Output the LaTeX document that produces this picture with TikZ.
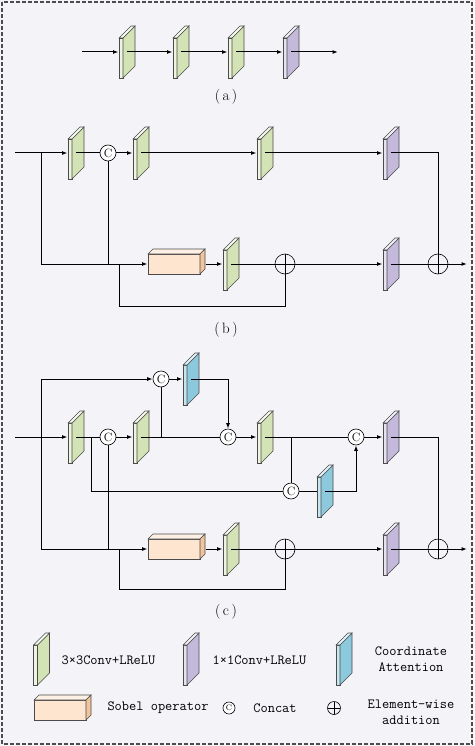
\documentclass[tikz,border=0pt]{standalone}
\usepackage{fontspec}
\usetikzlibrary{arrows.meta,positioning}

\definecolor{bgcol}{HTML}{F4F3F8}
\definecolor{edge}{HTML}{4A4A4A}
\definecolor{grnF}{HTML}{EEF4E0}
\definecolor{grnS}{HTML}{D3E3B5}
\definecolor{prpF}{HTML}{E6E2F0}
\definecolor{prpS}{HTML}{C4B9DA}
\definecolor{cyaF}{HTML}{C6E6F0}
\definecolor{cyaS}{HTML}{8DC9DD}
\definecolor{sobF}{HTML}{FDE5D0}
\definecolor{sobS}{HTML}{F2C49C}
\definecolor{sobT}{HTML}{FEF0E4}

\newcommand\legfont{\fontsize{14}{16}\ttfamily}
\newcommand\caplabel{\fontsize{15}{17}\selectfont}

\begin{document}
\begin{tikzpicture}[
  x=1pt, y=-1pt,
  >={Latex[length=5.5pt,width=4pt]},
  line width=1pt,
  slab/.style 2 args={minimum width=17pt, minimum height=53pt, inner sep=0pt, outer sep=0pt,
    path picture={
      \begin{scope}[shift={(path picture bounding box.center)}, draw=edge, line width=0.6pt]
        \filldraw[fill=#1] (-8pt,-26pt) rectangle (-4pt,14pt);
        \filldraw[fill=#2] (-4pt,-26pt) -- (-4pt,14pt) -- (8pt,26pt) -- (8pt,-14pt) -- cycle;
        \filldraw[fill=#1!50!white] (-8pt,14pt) -- (-4pt,14pt) -- (8pt,26pt) -- (4pt,26pt) -- cycle;
      \end{scope}}},
  conv/.style={slab={grnF}{grnS}},
  pconv/.style={slab={prpF}{prpS}},
  catt/.style={slab={cyaF}{cyaS}},
  sobel/.style={minimum width=58pt, minimum height=31pt, inner sep=0pt, outer sep=0pt,
    path picture={
      \begin{scope}[shift={(path picture bounding box.center)}, draw=edge, line width=0.6pt]
        \filldraw[fill=sobF] (-28.5pt,-10pt) rectangle (23.5pt,10pt);
        \filldraw[fill=sobT] (-28.5pt,10pt) -- (23.5pt,10pt) -- (28.5pt,15pt) -- (-23.5pt,15pt) -- cycle;
        \filldraw[fill=sobS] (23.5pt,-10pt) -- (23.5pt,10pt) -- (28.5pt,15pt) -- (28.5pt,-5pt) -- cycle;
      \end{scope}}},
  conc/.style={circle, draw, fill=white, minimum size=16pt, inner sep=0pt, line width=0.6pt,
    font=\fontsize{12}{12}\selectfont},
  plus/.style={circle, draw, minimum size=20pt, inner sep=0pt, line width=0.6pt,
    path picture={
      \draw[line width=0.7pt] (path picture bounding box.north) -- (path picture bounding box.south);
      \draw[line width=0.7pt] (path picture bounding box.west) -- (path picture bounding box.east);}},
  lbl/.style={font=\legfont, align=center},
  sublbl/.style={font=\caplabel}
]
% background and frame
\fill[bgcol] (0,0) rectangle (474,746);
\draw[gray!60!black, line width=1.2pt, dash pattern=on 4pt off 2pt] (2,2) rectangle (472,744);

% (a)
\node[conv] (a1) at (127,52) {};
\node[conv, right of=a1, node distance=54pt] (a2) {};
\node[conv, right of=a2, node distance=55pt] (a3) {};
\node[pconv, right of=a3, node distance=55pt] (a4) {};
\coordinate (ain) at (82,52);
\coordinate (aout) at (338,52);
\node[sublbl] (la) at (226,97) {(\,a\,)};

\draw[->] (ain) -- (a1);
\draw[->] (a1.center) -- (a2);
\draw[->] (a2.center) -- (a3);
\draw[->] (a3.center) -- (a4);
\draw[->] (a4.center) -- (aout);

% (b)
\node[conv] (b1) at (76,153) {};
\node[conc, right of=b1, node distance=32pt] (bc) {C};
\node[conv, right of=bc, node distance=33pt] (b2) {};
\node[conv] (b3) at (265,153) {};
\node[pconv] (b4) at (391,153) {};
\node[sobel] (bsob) at (176.5,264) {};
\node[conv, right of=bsob, node distance=54.5pt] (b5) {};
\node[plus] (bp1) at (285,264) {};
\node[pconv] (b6) at (391,264) {};
\node[plus] (bp2) at (438,264) {};
\coordinate (bin) at (15,153);
\coordinate (bs) at (41,153);
\coordinate (bk) at (119,264);
\coordinate (bout) at (467,264);
\node[sublbl] (lb) at (226,330) {(\,b\,)};

\draw[->] (bin) -- (b1);
\draw (b1.center) -- (bc);
\draw[->] (bc) -- (b2);
\draw[->] (b2.center) -- (b3);
\draw[->] (b3.center) -- (b4);
\draw (b4.center) -| (bp2);
\draw[->] (bs) |- (bsob);
\draw (bc) -- (bc |- bsob);
\draw (bk) -- ++(0,42) -| (bp1);
\draw[->] (bsob) -- (b5);
\draw (b5.center) -- (bp1);
\draw[->] (bp1) -- (b6);
\draw (b6.center) -- (bp2);
\draw[->] (bp2) -- (bout);

% (c)
\node[conv] (c1) at (76,437) {};
\node[conc, right of=c1, node distance=32pt] (cc1) {C};
\node[conv, right of=cc1, node distance=33pt] (c2) {};
\node[conc] (cc2) at (161,379) {C};
\node[catt, right of=cc2, node distance=30pt] (ca1) {};
\node[conc] (cc3) at (228,437) {C};
\node[conv, right of=cc3, node distance=37pt] (c3) {};
\node[conc] (cc4) at (356,437) {C};
\node[pconv, right of=cc4, node distance=35pt] (c4) {};
\node[conc] (cc5) at (291,491) {C};
\node[catt, right of=cc5, node distance=34pt] (ca2) {};
\node[sobel] (csob) at (176.5,549) {};
\node[conv, right of=csob, node distance=54.5pt] (c5) {};
\node[plus] (cp1) at (285,549) {};
\node[pconv] (c6) at (391,549) {};
\node[plus] (cp2) at (438,549) {};
\coordinate (cin) at (15,437);
\coordinate (ct) at (41,379);
\coordinate (cm) at (91,437);
\coordinate (ck) at (119,549);
\coordinate (cout) at (467,549);
\node[sublbl] (lc) at (226,612) {(\,c\,)};

\draw[->] (cin) -- (c1);
\draw (c1.center) -- (cc1);
\draw[->] (cc1) -- (c2);
\draw (c2.center) -- (cc3);
\draw[->] (ct) -- (cc2);
\draw (cc2 |- cc3) -- (cc2);
\draw[->] (cc2) -- (ca1);
\draw[->] (ca1.center) -| (cc3);
\draw[->] (cc3) -- (c3);
\draw (c3.center) -- (cc4);
\draw[->] (cc4) -- (c4);
\draw (c4.center) -| (cp2);
\draw (cm) |- (cc5);
\draw (cc5 |- cc4) -- (cc5);
\draw (cc5) -- (ca2);
\draw[->] (ca2.center) -| (cc4);
\draw[->] (ct) |- (csob);
\draw (cc1) -- (cc1 |- csob);
\draw (ck) -- ++(0,40) -| (cp1);
\draw[->] (csob) -- (c5);
\draw (c5.center) -- (cp1);
\draw[->] (cp1) -- (c6);
\draw (c6.center) -- (cp2);
\draw[->] (cp2) -- (cout);

% legend
\node[conv] (k1) at (41.5,659) {};
\node[lbl] (t1) at (108.5,660) {3×3Conv+LReLU};
\node[pconv] (k2) at (191,659) {};
\node[lbl] (t2) at (259.5,660) {1×1Conv+LReLU};
\node[catt] (k3) at (344,659) {};
\node[lbl] (t3) at (411,659) {Coordinate\\Attention};
\node[sobel] (k4) at (62.5,710) {};
\node[lbl] (t4) at (158,708) {Sobel operator};
\node[conc, minimum size=12pt, font=\fontsize{8}{8}\selectfont] (k5) at (229,708) {C};
\node[lbl] (t5) at (275,708) {Concat};
\node[plus, minimum size=13pt] (k6) at (334,708) {};
\node[lbl] (t6) at (411,712) {Element-wise\\addition};
\end{tikzpicture}
\end{document}
